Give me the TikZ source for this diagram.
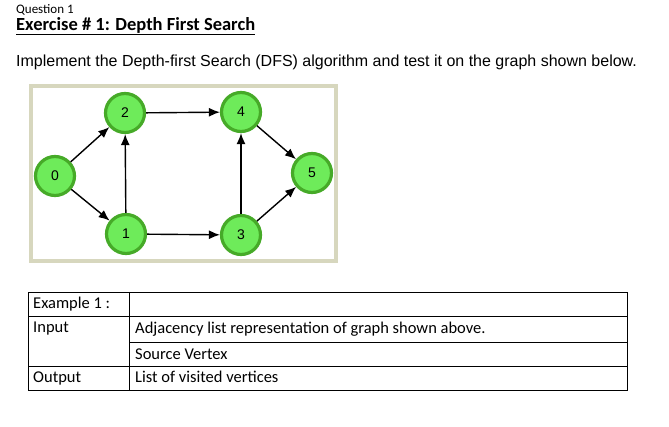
\documentclass[tikz,border=0pt]{standalone}
\usepackage{fontspec}
\usetikzlibrary{arrows.meta}
\setmainfont{Carlito}
\newfontfamily\arial{Liberation Sans}
\begin{document}
\begin{tikzpicture}[x=1pt,y=-1pt,
 vtx/.style={circle,draw={rgb,255:red,70;green,170;blue,40},line width=3.2pt,fill={rgb,255:red,110;green,235;blue,90},minimum size=39pt,inner sep=0pt,font=\arial\fontsize{14}{15}\selectfont},
 edge/.style={-{Latex[length=11pt,width=9pt]},line width=1.4pt},
 cell/.style={anchor=west,inner sep=0pt,font=\fontsize{16.5}{18}\selectfont}]
\useasboundingbox (0,0) rectangle (669,427);
\node[anchor=west,inner sep=0pt,font=\fontsize{13}{14}\selectfont] (q) at (16,10) {Question 1};
\node[anchor=west,inner sep=0pt,font=\bfseries\fontsize{18.5}{20}\selectfont] (t) at (16,26) {\underline{Exercise \# 1: Depth First Search}};
\node[anchor=west,inner sep=0pt,font=\arial\fontsize{16}{18}\selectfont] (p) at (16,62) {Implement the Depth-first Search (DFS) algorithm and test it on the graph shown below.};
\draw[draw={rgb,255:red,215;green,215;blue,190},line width=3.5pt] (31,86) rectangle (336,261);
\node[vtx] (n0) at (55,176) {0};
\node[vtx] (n2) at (125,113) {2};
\node[vtx] (n4) at (241,112) {4};
\node[vtx] (n5) at (312,173) {5};
\node[vtx] (n1) at (126,234) {1};
\node[vtx] (n3) at (241,235) {3};
\draw[edge] (n0)--(n2); \draw[edge] (n0)--(n1); \draw[edge] (n1)--(n2);
\draw[edge] (n2)--(n4); \draw[edge] (n1)--(n3); \draw[edge] (n3)--(n4);
\draw[edge] (n4)--(n5); \draw[edge] (n3)--(n5);
\draw[line width=0.9pt] (28,292) rectangle (627,390);
\draw[line width=0.9pt] (129,292)--(129,390) (28,316)--(627,316) (129,342)--(627,342) (28,366)--(627,366);
\node[cell] (a) at (33,304) {Example 1 :};
\node[cell] (b) at (33,329) {Input};
\node[cell] (c) at (135,329) {Adjacency list representation of graph shown above.};
\node[cell] (d) at (135,354) {Source Vertex};
\node[cell] (e) at (33,378) {Output};
\node[cell] (f) at (135,377) {List of visited vertices};
\end{tikzpicture}
\end{document}
